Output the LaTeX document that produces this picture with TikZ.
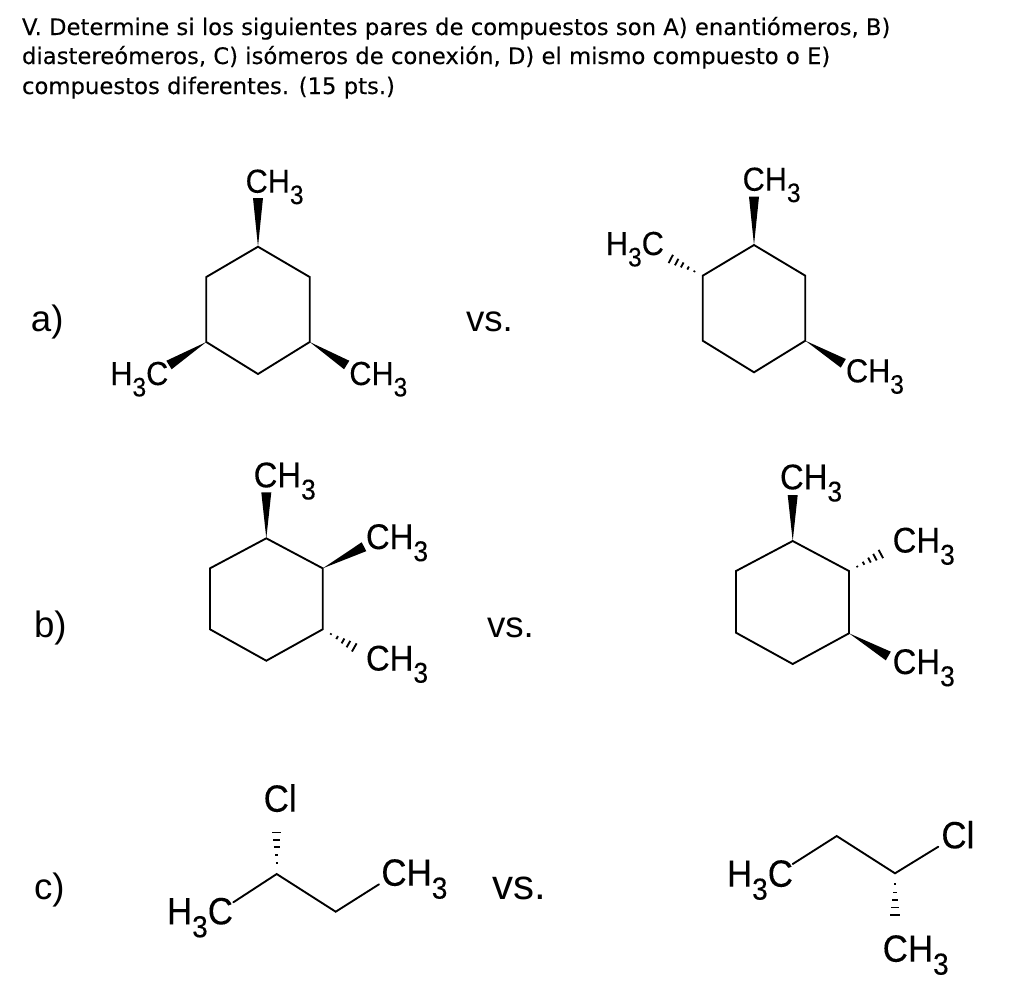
\documentclass[tikz,border=0pt]{standalone}
\usepackage{fontspec}
\usepackage{graphicx}
\usetikzlibrary{calc}
\setmainfont[FakeBold=0.12]{DejaVu Sans}
\newfontfamily\chemfont[FakeStretch=0.92,FakeBold=0.12]{Liberation Sans}
\newfontfamily\partfont{Liberation Sans}
\newcommand{\subthree}{\raisebox{-.34em}{\scalebox{0.8}{3}}}
\newcommand{\methyl}{CH\subthree}
\newcommand{\methylr}{H\subthree C}
\newcommand{\wedgebond}[2]{\fill[black] (#1) -- ($(#2)!5pt*0.75!90:(#1)$) -- ($(#2)!5pt*0.75!-90:(#1)$) -- cycle;}
\newcommand{\hashbond}[2]{\foreach \t/\w in {0.21/0.8,0.37/1.7,0.52/2.8,0.66/3.7,0.81/4.7,1.0/5.8}{
  \draw[hashline] ($(#1)!\t!(#2)!\w*0.75pt!90:(#2)$) -- ($(#1)!\t!(#2)!\w*0.75pt!-90:(#2)$);}}
\tikzset{
  bond/.style={line width=1.4pt,line join=miter,line cap=round},
  hashline/.style={line width=1.4pt},
  atomlabel/.style={anchor=base west,inner sep=0pt,outer sep=0pt,xshift=-1pt,font=\chemfont\fontsize{25}{25}\selectfont},
  atomlabelb/.style={atomlabel,font=\chemfont\fontsize{26.8}{27}\selectfont},
  atomlabelc/.style={atomlabel,font=\chemfont\fontsize{28.5}{29}\selectfont},
  partlabel/.style={anchor=base west,inner sep=0pt,outer sep=0pt,font=\partfont\fontsize{27.5}{27.5}\selectfont},
  headline/.style={anchor=base west,inner sep=0pt,outer sep=0pt,font=\fontsize{17.05}{17.2}\selectfont}
}
\begin{document}
\begin{tikzpicture}[x=0.75pt,y=-0.75pt]
\useasboundingbox (0,0) rectangle (1024,1001);
% heading
\node[headline] (h1) at (22,35) {V. Determine si los siguientes pares de compuestos son A) enantiómeros, B)};
\node[headline] (h2) at (22,64) {diastereómeros, C) isómeros de conexión, D) el mismo compuesto o E)};
\node[headline] (h3) at (22,94) {compuestos diferentes. (15 pts.)};
% part labels
\node[partlabel] (la) at (31,331) {a)};
\node[partlabel] (lb) at (34,637) {b)};
\node[partlabel] (lc) at (34,899) {c)};
\node[partlabel] (va) at (466,331) {vs.};
\node[partlabel] (vb) at (487,637) {vs.};
\node[partlabel,font=\partfont\fontsize{31.5}{31.5}\selectfont] (vc) at (492,899) {vs.};
% a) left
\coordinate (a1) at (258,246.7);\coordinate (a2) at (309.7,277);\coordinate (a3) at (309.7,342);
\coordinate (a4) at (258,374);\coordinate (a5) at (206.3,342);\coordinate (a6) at (206.3,277);
\coordinate (a1m) at (258,198);\coordinate (a3m) at (346.7,365);\coordinate (a5m) at (169,365);
\draw[bond] (a1)--(a2)--(a3)--(a4)--(a5)--(a6)--cycle;
\wedgebond{a1}{a1m}\wedgebond{a3}{a3m}\wedgebond{a5}{a5m}
\node[atomlabel] (at1) at (247,192.7) {\methyl};
\node[atomlabel] (at2) at (350.7,385) {\methyl};
\node[atomlabel] (at3) at (111.7,385) {\methylr};
% a) right
\coordinate (b1) at (754,245);\coordinate (b2) at (805.3,275.7);\coordinate (b3) at (805.3,340.7);
\coordinate (b4) at (754,372.3);\coordinate (b5) at (702.7,340.7);\coordinate (b6) at (702.7,275.7);
\coordinate (b1m) at (754,196.7);\coordinate (b3m) at (843.3,363.3);\coordinate (b6m) at (663.3,255);
\draw[bond] (b1)--(b2)--(b3)--(b4)--(b5)--(b6)--cycle;
\wedgebond{b1}{b1m}\wedgebond{b3}{b3m}\hashbond{b6}{b6m}
\node[atomlabel] (bt1) at (744,190.7) {\methyl};
\node[atomlabel] (bt2) at (847.3,382.3) {\methyl};
\node[atomlabel] (bt3) at (607.3,255) {\methylr};
% b) left
\coordinate (c1) at (266.3,538.3);\coordinate (c2) at (322.7,568.3);\coordinate (c3) at (322.7,629.3);
\coordinate (c4) at (266.3,660.7);\coordinate (c5) at (210,629.3);\coordinate (c6) at (210,568.3);
\coordinate (c1m) at (266.3,492.3);\coordinate (c2m) at (364,546.7);\coordinate (c3m) at (361.7,651.7);
\draw[bond] (c1)--(c2)--(c3)--(c4)--(c5)--(c6)--cycle;
\wedgebond{c1}{c1m}\wedgebond{c2}{c2m}\hashbond{c3}{c3m}
\node[atomlabelb] (ct1) at (255,487.3) {\methyl};
\node[atomlabelb] (ct2) at (367.3,549) {\methyl};
\node[atomlabelb] (ct3) at (367.3,670.5) {\methyl};
% b) right
\coordinate (d1) at (792.7,541);\coordinate (d2) at (849,571);\coordinate (d3) at (849,633.3);
\coordinate (d4) at (792.7,664);\coordinate (d5) at (736,632.7);\coordinate (d6) at (736,571);
\coordinate (d1m) at (792.7,495);\coordinate (d2m) at (888.3,550);\coordinate (d3m) at (888.3,656);
\draw[bond] (d1)--(d2)--(d3)--(d4)--(d5)--(d6)--cycle;
\wedgebond{d1}{d1m}\hashbond{d2}{d2m}\wedgebond{d3}{d3m}
\node[atomlabelb] (dt1) at (781.3,489.3) {\methyl};
\node[atomlabelb] (dt2) at (894,552.5) {\methyl};
\node[atomlabelb] (dt3) at (894,674) {\methyl};
% c) left
\coordinate (e1) at (233.3,902.3);\coordinate (e2) at (276.7,874);\coordinate (e3) at (335.7,911.7);
\coordinate (e4) at (379,884.3);\coordinate (e2m) at (276.7,822.7);
\draw[bond] (e1)--(e2)--(e3)--(e4);
\hashbond{e2}{e2m}
\node[atomlabelc] (et1) at (265,811.7) {Cl};
\node[atomlabelc] (et2) at (382.7,885.7) {\methyl};
\node[atomlabelc] (et3) at (168.3,924.3) {\methylr};
% c) right
\coordinate (f1) at (792.7,864);\coordinate (f2) at (836.7,836);\coordinate (f3) at (895,873.3);
\coordinate (f4) at (938.3,846.7);\coordinate (f3m) at (895,925);
\draw[bond] (f1)--(f2)--(f3)--(f4);
\hashbond{f3}{f3m}
\node[atomlabelc] (ft1) at (728.3,886.7) {\methylr};
\node[atomlabelc] (ft2) at (942.7,848.3) {Cl};
\node[atomlabelc] (ft3) at (884,961.7) {\methyl};
\end{tikzpicture}
\end{document}
